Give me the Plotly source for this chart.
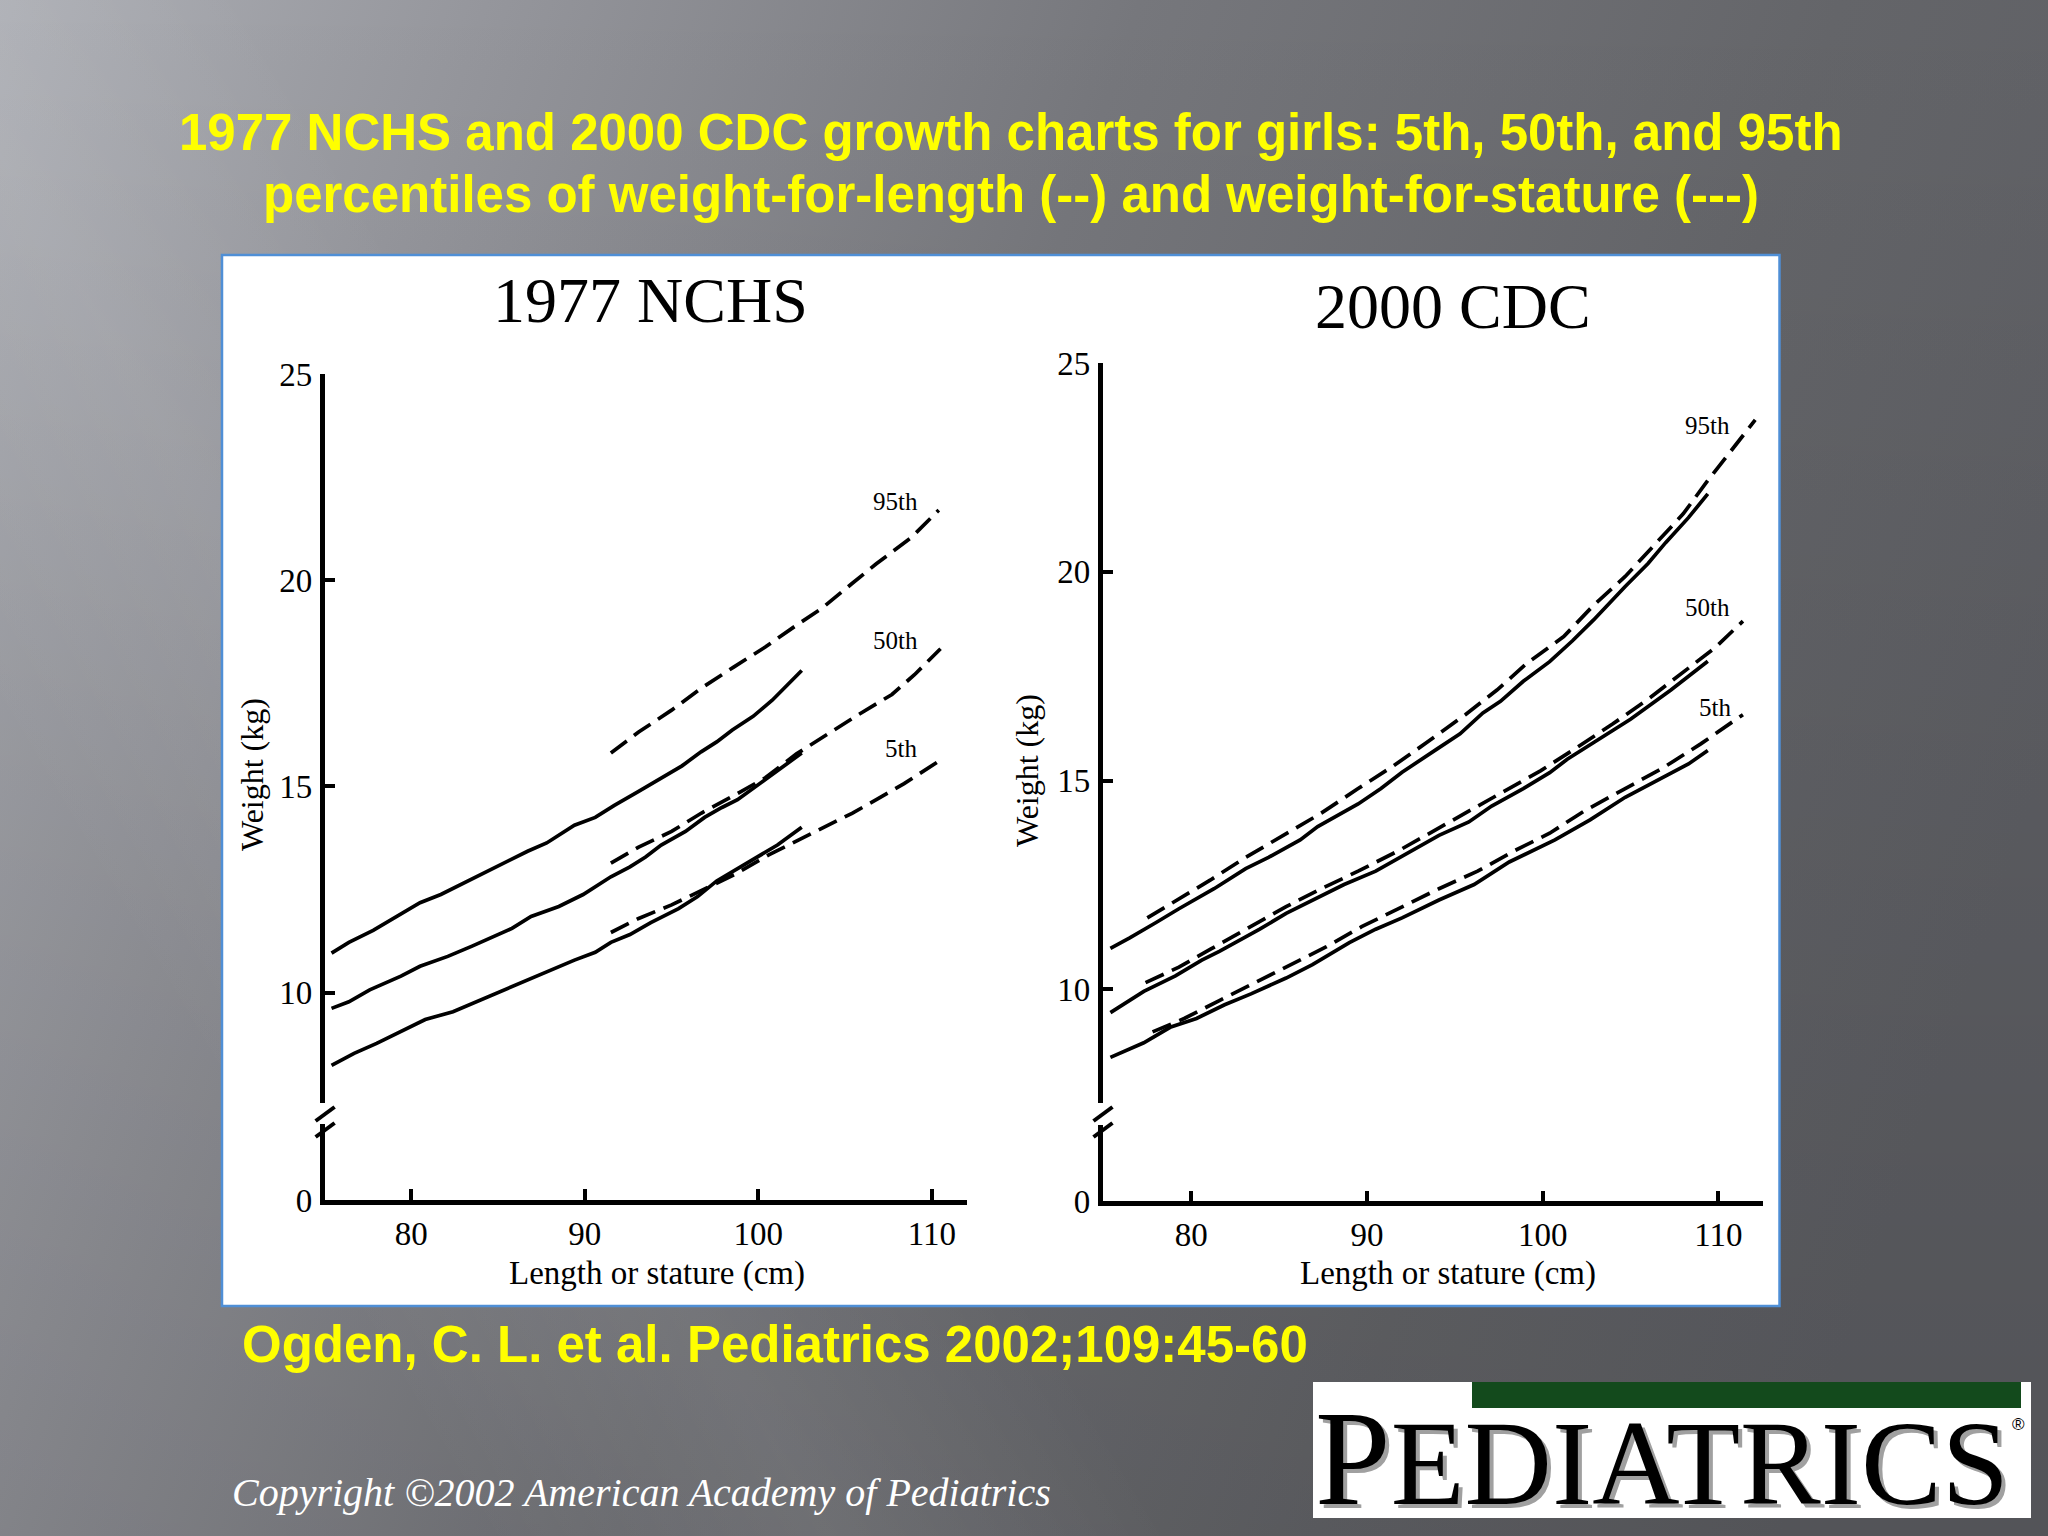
import base64
import plotly.graph_objects as go

W, H = 2048, 1536

# ---------------- data ----------------
pct_labels = ["95th", "50th", "5th"]
x_ticks = [80, 90, 100, 110]
y_ticks_upper = [10, 15, 20, 25]
y_ticks_lower = [0]

# 1977 NCHS - weight-for-length (solid)
nchs_len_95_x = [75.4, 76.4, 77.8, 79.2, 80.5, 81.7, 83.3, 85.3, 86.7, 87.8, 89.4, 90.6, 91.7, 93.1, 94.4, 95.6, 96.7, 97.6, 98.5, 99.7, 100.8, 101.7, 102.5]
nchs_len_95_y = [10.96, 11.22, 11.51, 11.85, 12.18, 12.38, 12.71, 13.14, 13.43, 13.63, 14.06, 14.25, 14.54, 14.88, 15.21, 15.5, 15.84, 16.08, 16.37, 16.70, 17.09, 17.47, 17.81]
nchs_len_50_x = [75.4, 76.4, 77.6, 79.4, 80.5, 82.1, 83.5, 85.8, 86.9, 88.5, 89.9, 90.8, 91.5, 92.6, 93.5, 94.4, 95.8, 96.9, 97.9, 98.8, 99.9, 101.3, 102.5]
nchs_len_50_y = [9.62, 9.78, 10.07, 10.40, 10.64, 10.88, 11.13, 11.56, 11.85, 12.09, 12.38, 12.62, 12.81, 13.05, 13.29, 13.58, 13.91, 14.25, 14.49, 14.68, 15.02, 15.45, 15.81]
nchs_len_5_x = [75.4, 76.7, 78.0, 79.4, 80.8, 82.4, 84.0, 85.6, 86.7, 88.1, 89.4, 90.6, 91.5, 92.6, 93.8, 95.4, 96.5, 97.6, 98.8, 99.9, 101.1, 102.5]
nchs_len_5_y = [8.24, 8.53, 8.77, 9.06, 9.35, 9.54, 9.83, 10.12, 10.31, 10.55, 10.79, 10.98, 11.22, 11.41, 11.70, 12.04, 12.33, 12.71, 13.00, 13.29, 13.58, 14.01]

# 1977 NCHS - weight-for-stature (dashed)
nchs_sta_95_x = [91.5, 93.1, 95.0, 96.7, 98.6, 100.4, 102.2, 103.6, 105.4, 106.8, 108.8, 110.4]
nchs_sta_95_y = [15.81, 16.32, 16.85, 17.38, 17.90, 18.38, 18.91, 19.30, 19.92, 20.40, 21.03, 21.70]
nchs_sta_50_x = [91.5, 93.1, 95.0, 96.7, 98.6, 100.4, 102.2, 104.0, 105.8, 107.7, 109.0, 110.5]
nchs_sta_50_y = [13.14, 13.53, 13.91, 14.35, 14.78, 15.21, 15.79, 16.27, 16.75, 17.23, 17.71, 18.34]
nchs_sta_5_x = [91.5, 93.1, 95.0, 96.7, 98.6, 100.6, 102.2, 103.8, 105.4, 106.8, 108.4, 110.5]
nchs_sta_5_y = [11.46, 11.80, 12.13, 12.47, 12.86, 13.34, 13.67, 14.01, 14.35, 14.68, 15.07, 15.64]

# 2000 CDC - weight-for-length (solid)
cdc_len_95_x = [75.4, 76.5, 78.0, 79.3, 81.3, 83.1, 84.4, 86.2, 87.2, 89.5, 90.8, 92.0, 94.0, 95.3, 96.6, 97.6, 98.9, 100.4, 101.7, 102.9, 104.7, 106.0, 107.0, 108.3, 109.4]
cdc_len_95_y = [10.98, 11.23, 11.60, 11.93, 12.41, 12.89, 13.16, 13.58, 13.90, 14.44, 14.81, 15.20, 15.76, 16.12, 16.62, 16.90, 17.38, 17.85, 18.35, 18.85, 19.65, 20.20, 20.70, 21.30, 21.87]
cdc_len_50_x = [75.4, 77.3, 79.1, 80.6, 81.6, 83.9, 85.4, 87.2, 88.7, 90.5, 92.3, 94.1, 95.8, 97.1, 98.9, 100.4, 101.4, 103.2, 105.0, 107.3, 109.4]
cdc_len_50_y = [9.44, 9.95, 10.32, 10.70, 10.91, 11.44, 11.82, 12.19, 12.51, 12.83, 13.26, 13.69, 14.01, 14.39, 14.81, 15.19, 15.51, 15.99, 16.47, 17.17, 17.86]
cdc_len_5_x = [75.4, 77.3, 78.8, 80.3, 81.9, 83.4, 85.4, 86.9, 89.0, 90.5, 92.0, 94.1, 96.1, 98.1, 100.7, 102.7, 104.7, 106.8, 108.3, 109.4]
cdc_len_5_y = [8.37, 8.72, 9.09, 9.30, 9.63, 9.89, 10.27, 10.59, 11.12, 11.44, 11.71, 12.14, 12.51, 13.05, 13.58, 14.06, 14.60, 15.08, 15.40, 15.72]

# 2000 CDC - weight-for-stature (dashed)
cdc_sta_95_x = [77.5, 79.3, 81.1, 83.1, 85.4, 87.4, 89.5, 91.5, 93.5, 95.6, 97.4, 99.1, 101.2, 102.9, 104.7, 106.5, 108.0, 109.4, 110.6, 112.1]
cdc_sta_95_y = [11.71, 12.16, 12.62, 13.16, 13.74, 14.22, 14.81, 15.35, 15.94, 16.58, 17.17, 17.81, 18.45, 19.20, 19.89, 20.70, 21.39, 22.19, 22.83, 23.64]
cdc_sta_50_x = [77.4, 79.3, 81.1, 83.1, 85.4, 87.4, 89.5, 91.8, 93.8, 95.8, 97.9, 99.9, 101.9, 104.0, 106.0, 108.0, 109.8, 111.4]
cdc_sta_50_y = [10.16, 10.53, 10.96, 11.44, 11.98, 12.41, 12.83, 13.32, 13.80, 14.28, 14.76, 15.24, 15.78, 16.36, 16.95, 17.59, 18.18, 18.82]
cdc_sta_5_x = [77.8, 79.6, 81.6, 83.6, 85.7, 87.7, 89.7, 92.0, 94.1, 96.3, 98.4, 100.4, 102.4, 104.7, 106.8, 109.0, 110.3, 111.4]
cdc_sta_5_y = [8.98, 9.30, 9.73, 10.16, 10.59, 11.02, 11.50, 11.98, 12.41, 12.83, 13.32, 13.74, 14.28, 14.81, 15.29, 15.88, 16.26, 16.58]

# percentile label anchor positions (data coords)
nchs_label_x = [107.9, 107.9, 108.2]
nchs_label_y = [21.9, 18.53, 15.93]
cdc_label_x = [109.4, 109.4, 109.8]
cdc_label_y = [23.5, 19.14, 16.76]

# ---------------- helpers ----------------
def px(x):
    return x / W

def py(y):
    return 1 - y / H

SERIF = "Liberation Serif"
SANS = "Liberation Sans"
YELLOW = "#ffff00"

fig = go.Figure()

def add_line(x, y, xa, ya, dashed):
    fig.add_trace(go.Scatter(
        x=x, y=y, xaxis=xa, yaxis=ya, mode="lines",
        line=dict(color="black", width=3.7, dash="20px,9px" if dashed else "solid"),
        showlegend=False, hoverinfo="skip"))

# left panel (1977 NCHS)
for xs, ys in [(nchs_len_95_x, nchs_len_95_y), (nchs_len_50_x, nchs_len_50_y), (nchs_len_5_x, nchs_len_5_y)]:
    add_line(xs, ys, "x", "y", False)
for xs, ys in [(nchs_sta_95_x, nchs_sta_95_y), (nchs_sta_50_x, nchs_sta_50_y), (nchs_sta_5_x, nchs_sta_5_y)]:
    add_line(xs, ys, "x", "y", True)
# right panel (2000 CDC)
for xs, ys in [(cdc_len_95_x, cdc_len_95_y), (cdc_len_50_x, cdc_len_50_y), (cdc_len_5_x, cdc_len_5_y)]:
    add_line(xs, ys, "x2", "y3", False)
for xs, ys in [(cdc_sta_95_x, cdc_sta_95_y), (cdc_sta_50_x, cdc_sta_50_y), (cdc_sta_5_x, cdc_sta_5_y)]:
    add_line(xs, ys, "x2", "y3", True)

# empty traces to register lower (broken) axis segments
fig.add_trace(go.Scatter(x=[], y=[], xaxis="x", yaxis="y2", showlegend=False, hoverinfo="skip"))
fig.add_trace(go.Scatter(x=[], y=[], xaxis="x2", yaxis="y4", showlegend=False, hoverinfo="skip"))

tickfont = dict(family=SERIF, size=33, color="black")
LW = 4.5

def xax(domain, rng, anchor):
    return dict(domain=domain, range=rng, anchor=anchor, showline=True, linecolor="black",
                linewidth=LW, tickvals=x_ticks, ticks="inside", ticklen=11, tickwidth=4,
                tickcolor="black", tickfont=tickfont, showgrid=False, zeroline=False,
                ticklabelstandoff=0, fixedrange=True, automargin=False)

def yax(domain, rng, anchor, tickvals, ticks):
    return dict(domain=domain, range=rng, anchor=anchor, showline=True, linecolor="black",
                linewidth=LW, tickvals=tickvals, ticks=ticks, ticklen=11, tickwidth=4,
                tickcolor="black", tickfont=tickfont, showgrid=False, zeroline=False,
                ticklabelstandoff=1, fixedrange=True, automargin=False)

# left panel geometry
L_x0, L_x1 = 324.6, 967.0
L_y10, L_y25, L_y0 = 992.7, 374.0, 1200.2
L_k = (L_y10 - L_y25) / 15.0
L_brk_top, L_brk_bot = 1103.0, 1124.0
# right panel geometry
R_x0, R_x1 = 1102.5, 1762.8
R_y10, R_y25, R_y0 = 989.3, 363.2, 1201.4
R_k = (R_y10 - R_y25) / 15.0
R_brk_top, R_brk_bot = 1103.0, 1125.0

fig.update_layout(
    xaxis=xax([px(L_x0), px(L_x1)], [75, 75 + (L_x1 - L_x0) / 17.35], "y2"),
    yaxis=yax([py(L_brk_top), py(L_y25)], [10 - (L_brk_top - L_y10) / L_k, 25], "x", y_ticks_upper, "inside"),
    yaxis2=yax([py(L_y0), py(L_brk_bot)], [0, (L_y0 - L_brk_bot) / L_k], "x", y_ticks_lower, ""),
    xaxis2=xax([px(R_x0), px(R_x1)], [74.95, 74.95 + (R_x1 - R_x0) / 17.57], "y4"),
    yaxis3=yax([py(R_brk_top), py(R_y25)], [10 - (R_brk_top - R_y10) / R_k, 25], "x2", y_ticks_upper, "inside"),
    yaxis4=yax([py(R_y0), py(R_brk_bot)], [0, (R_y0 - R_brk_bot) / R_k], "x2", y_ticks_lower, ""),
)

# ---------------- background gradient (decorative) ----------------
svg = """<svg xmlns="http://www.w3.org/2000/svg" width="2048" height="1536" viewBox="0 0 2048 1536" preserveAspectRatio="none">
<defs>
<linearGradient id="g" x1="0" y1="0" x2="2048" y2="700" gradientUnits="userSpaceOnUse">
<stop offset="0" stop-color="#aeb0b6"/>
<stop offset="0.22" stop-color="#95969c"/>
<stop offset="0.5" stop-color="#76777c"/>
<stop offset="0.8" stop-color="#646569"/>
<stop offset="1" stop-color="#5e5f64"/>
</linearGradient>
<linearGradient id="v" x1="0" y1="0" x2="0" y2="1536" gradientUnits="userSpaceOnUse">
<stop offset="0" stop-color="#000" stop-opacity="0"/>
<stop offset="1" stop-color="#000" stop-opacity="0.12"/>
</linearGradient>
<linearGradient id="s" x1="0" y1="700" x2="500" y2="400" gradientUnits="userSpaceOnUse">
<stop offset="0" stop-color="#fff" stop-opacity="0"/>
<stop offset="0.5" stop-color="#fff" stop-opacity="0.07"/>
<stop offset="1" stop-color="#fff" stop-opacity="0"/>
</linearGradient>
</defs>
<rect width="2048" height="1536" fill="url(#g)"/>
<rect width="2048" height="1536" fill="url(#v)"/>
<rect width="2048" height="1536" fill="url(#s)"/>
</svg>"""
bg_src = "data:image/svg+xml;base64," + base64.b64encode(svg.encode()).decode()

shapes = []
# white chart panel with blue border
shapes.append(dict(type="rect", xref="paper", yref="paper", x0=px(222), x1=px(1779.5), y0=py(1306), y1=py(255),
                   fillcolor="white", line=dict(color="#4f8fd6", width=2.5), layer="below"))
# axis break marks
for (bx, bys) in [(L_x0, [1114, 1130]), (R_x0, [1114, 1130])]:
    for by in bys:
        shapes.append(dict(type="line", xref="paper", yref="paper",
                           x0=px(bx - 9), y0=py(by + 7), x1=px(bx + 10), y1=py(by - 7),
                           line=dict(color="black", width=4)))
# Pediatrics logo box
shapes.append(dict(type="rect", xref="paper", yref="paper", x0=px(1313), x1=px(2031), y0=py(1518), y1=py(1382),
                   fillcolor="white", line=dict(width=0), layer="above"))
shapes.append(dict(type="rect", xref="paper", yref="paper", x0=px(1472), x1=px(2021), y0=py(1408), y1=py(1382),
                   fillcolor="#134a1c", line=dict(width=0), layer="above"))

ann = []
# slide title
ann.append(dict(text="<b>1977 NCHS and 2000 CDC growth charts for girls: 5th, 50th, and 95th</b>",
                x=px(1011), y=py(133), xref="paper", yref="paper", showarrow=False,
                font=dict(family=SANS, size=51, color=YELLOW), xanchor="center", yanchor="middle"))
ann.append(dict(text="<b>percentiles of weight-for-length (--) and weight-for-stature (---)</b>",
                x=px(1011), y=py(194), xref="paper", yref="paper", showarrow=False,
                font=dict(family=SANS, size=51, color=YELLOW), xanchor="center", yanchor="middle"))
# panel titles
ann.append(dict(text="1977 NCHS", x=px(650), y=py(301), xref="paper", yref="paper", showarrow=False,
                font=dict(family=SERIF, size=64, color="black"), xanchor="center", yanchor="middle"))
ann.append(dict(text="2000 CDC", x=px(1453), y=py(306), xref="paper", yref="paper", showarrow=False,
                font=dict(family=SERIF, size=64, color="black"), xanchor="center", yanchor="middle"))
# axis titles
for cx, cy in [(657, 1273), (1448, 1273)]:
    ann.append(dict(text="Length or stature (cm)", x=px(cx), y=py(cy), xref="paper", yref="paper",
                    showarrow=False, font=dict(family=SERIF, size=33, color="black"),
                    xanchor="center", yanchor="middle"))
for cx, cy in [(252, 775), (1027, 771)]:
    ann.append(dict(text="Weight (kg)", x=px(cx), y=py(cy), xref="paper", yref="paper", textangle=-90,
                    showarrow=False, font=dict(family=SERIF, size=32, color="black"),
                    xanchor="center", yanchor="middle"))
# percentile labels
for lab, lx, ly in zip(pct_labels, nchs_label_x, nchs_label_y):
    ann.append(dict(text=lab, x=lx, y=ly, xref="x", yref="y", showarrow=False,
                    font=dict(family=SERIF, size=25, color="black"), xanchor="center", yanchor="middle"))
for lab, lx, ly in zip(pct_labels, cdc_label_x, cdc_label_y):
    ann.append(dict(text=lab, x=lx, y=ly, xref="x2", yref="y3", showarrow=False,
                    font=dict(family=SERIF, size=25, color="black"), xanchor="center", yanchor="middle"))
# citation
ann.append(dict(text="<b>Ogden, C. L. et al. Pediatrics 2002;109:45-60</b>", x=px(240), y=py(1344),
                xref="paper", yref="paper", showarrow=False,
                font=dict(family=SANS, size=51, color=YELLOW), xanchor="left", yanchor="middle"))
# copyright
ann.append(dict(text="<i>Copyright ©2002 American Academy of Pediatrics</i>", x=px(230), y=py(1492),
                xref="paper", yref="paper", showarrow=False,
                font=dict(family=SERIF, size=40, color="white"), xanchor="left", yanchor="middle"))
# logo wordmark (shadow + text)
logo = "<span style='font-size:136px'>P</span>EDIATRICS"
ann.append(dict(text=logo, x=px(1666), y=py(1462), xref="paper", yref="paper", showarrow=False,
                font=dict(family=SERIF, size=121, color="#a0a0a0"), xanchor="center", yanchor="middle"))
ann.append(dict(text=logo, x=px(1662), y=py(1458), xref="paper", yref="paper", showarrow=False,
                font=dict(family=SERIF, size=121, color="black"), xanchor="center", yanchor="middle"))
ann.append(dict(text="®", x=px(2018), y=py(1424), xref="paper", yref="paper", showarrow=False,
                font=dict(family=SANS, size=17, color="black"), xanchor="center", yanchor="middle"))

fig.update_layout(
    width=W, height=H, autosize=False,
    margin=dict(l=0, r=0, t=0, b=0, pad=0, autoexpand=False),
    paper_bgcolor="#77787d", plot_bgcolor="rgba(0,0,0,0)",
    showlegend=False, hovermode=False,
    images=[dict(source=bg_src, xref="paper", yref="paper", x=-0.01, y=1.01, sizex=1.02, sizey=1.02,
                 xanchor="left", yanchor="top", sizing="stretch", layer="below")],
    shapes=shapes, annotations=ann,
)

fig.write_html("out.html", config={"displayModeBar": False})
